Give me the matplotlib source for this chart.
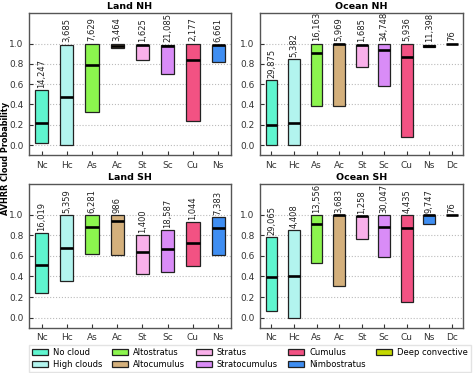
import matplotlib
matplotlib.use("Agg")
import matplotlib.pyplot as plt
from matplotlib.patches import Patch

ticksize = 6.5
titlesize = 6.8
countsize = 6

cats_land = ["Nc", "Hc", "As", "Ac", "St", "Sc", "Cu", "Ns"]
cats_ocean = ["Nc", "Hc", "As", "Ac", "St", "Sc", "Cu", "Ns", "Dc"]

legend_names = ["No cloud", "High clouds", "Altostratus", "Altocumulus", "Stratus",
                "Stratocumulus", "Cumulus", "Nimbostratus", "Deep convective"]
colors = ["#5ff5cf", "#b2f4ee", "#8cf54e", "#d4b07c", "#f9b0ea",
          "#d98cf7", "#f25283", "#3f8ef2", "#c4d800"]

# lower / upper / median / counts per panel
land_nh_lo = [0.02, 0.00, 0.33, 0.96, 0.84, 0.70, 0.24, 0.82]
land_nh_hi = [0.54, 0.99, 1.00, 1.00, 0.99, 0.99, 1.00, 0.99]
land_nh_md = [0.22, 0.47, 0.79, 0.98, 0.99, 0.975, 0.84, 0.99]
land_nh_n = ["14,247", "3,685", "7,629", "3,464", "1,625", "21,085", "2,177", "6,661"]

ocean_nh_lo = [0.00, 0.00, 0.38, 0.38, 0.77, 0.58, 0.08, 0.97, 1.00]
ocean_nh_hi = [0.64, 0.85, 1.00, 1.00, 0.99, 1.00, 1.00, 0.99, 1.00]
ocean_nh_md = [0.20, 0.22, 0.91, 1.00, 0.99, 0.94, 0.87, 0.98, 1.00]
ocean_nh_n = ["29,875", "5,382", "16,163", "5,969", "1,685", "34,748", "5,936", "11,398", "76"]

land_sh_lo = [0.24, 0.36, 0.62, 0.61, 0.42, 0.44, 0.50, 0.61]
land_sh_hi = [0.82, 1.00, 1.00, 1.00, 0.80, 0.85, 0.93, 0.98]
land_sh_md = [0.51, 0.68, 0.88, 0.94, 0.64, 0.67, 0.73, 0.87]
land_sh_n = ["16,019", "5,359", "6,281", "986", "1,400", "18,587", "1,044", "7,383"]

ocean_sh_lo = [0.06, 0.00, 0.53, 0.31, 0.76, 0.59, 0.15, 0.91, 1.00]
ocean_sh_hi = [0.78, 0.85, 1.00, 1.00, 0.99, 1.00, 1.00, 1.00, 1.00]
ocean_sh_md = [0.39, 0.40, 0.91, 1.00, 0.99, 0.88, 0.87, 1.00, 1.00]
ocean_sh_n = ["29,065", "4,408", "13,556", "3,683", "1,258", "30,047", "4,435", "9,747", "76"]

panels = [
    ("Land NH", cats_land, land_nh_lo, land_nh_hi, land_nh_md, land_nh_n, [0.061, 0.584, 0.426, 0.381]),
    ("Ocean NH", cats_ocean, ocean_nh_lo, ocean_nh_hi, ocean_nh_md, ocean_nh_n, [0.549, 0.584, 0.428, 0.381]),
    ("Land SH", cats_land, land_sh_lo, land_sh_hi, land_sh_md, land_sh_n, [0.061, 0.121, 0.426, 0.386]),
    ("Ocean SH", cats_ocean, ocean_sh_lo, ocean_sh_hi, ocean_sh_md, ocean_sh_n, [0.549, 0.121, 0.428, 0.386]),
]

fig = plt.figure(figsize=(4.74, 3.73), dpi=100)
w = 0.52

for title, cats, lo, hi, md, n, pos in panels:
    ax = fig.add_axes(pos)
    x = list(range(len(cats)))
    for i in x:
        h = hi[i] - lo[i]
        if h > 0.001:
            ax.bar(i, h, bottom=lo[i], width=w, color=colors[i], edgecolor="#222222",
                   linewidth=0.9, zorder=3)
        ax.plot([i - w / 2, i + w / 2], [md[i], md[i]], color="black", lw=1.9,
                solid_capstyle="butt", zorder=4)
        ax.text(i, hi[i] + 0.02, n[i], rotation=90, ha="center", va="bottom",
                fontsize=countsize, color="#222222", zorder=5)
    ax.set_xlim(-0.5, len(cats) - 0.5)
    ax.set_ylim(-0.1, 1.3)
    ax.set_yticks([0.0, 0.2, 0.4, 0.6, 0.8, 1.0])
    ax.set_yticklabels(["0.0", "0.2", "0.4", "0.6", "0.8", "1.0"])
    ax.set_xticks(x)
    ax.set_xticklabels(cats)
    ax.tick_params(direction="in", labelsize=ticksize, length=3, width=0.8,
                   colors="#333333", pad=4)
    ax.grid(axis="y", linestyle=":", color="#bbbbbb", linewidth=0.8, zorder=0)
    for s in ax.spines.values():
        s.set_color("#555555")
        s.set_linewidth(1.0)
    ax.set_title(title, fontsize=titlesize, fontweight="bold", pad=3)

fig.text(0.012, 0.576, "AVHRR Cloud Probability", rotation=90, ha="center", va="center",
         fontsize=5.9, fontweight="bold")

handles = [Patch(facecolor=c, edgecolor="#222222", linewidth=0.9) for c in colors]
fig.legend(handles, legend_names, loc="upper left", bbox_to_anchor=(0.061, 0.074),
           ncol=5, fontsize=6.0, frameon=True, edgecolor="#dddddd", fancybox=False,
           handlelength=1.9, handleheight=0.7, columnspacing=1.25, handletextpad=0.6,
           borderpad=0.35, labelspacing=0.3, borderaxespad=0)

fig.savefig("out.png", dpi=100)
